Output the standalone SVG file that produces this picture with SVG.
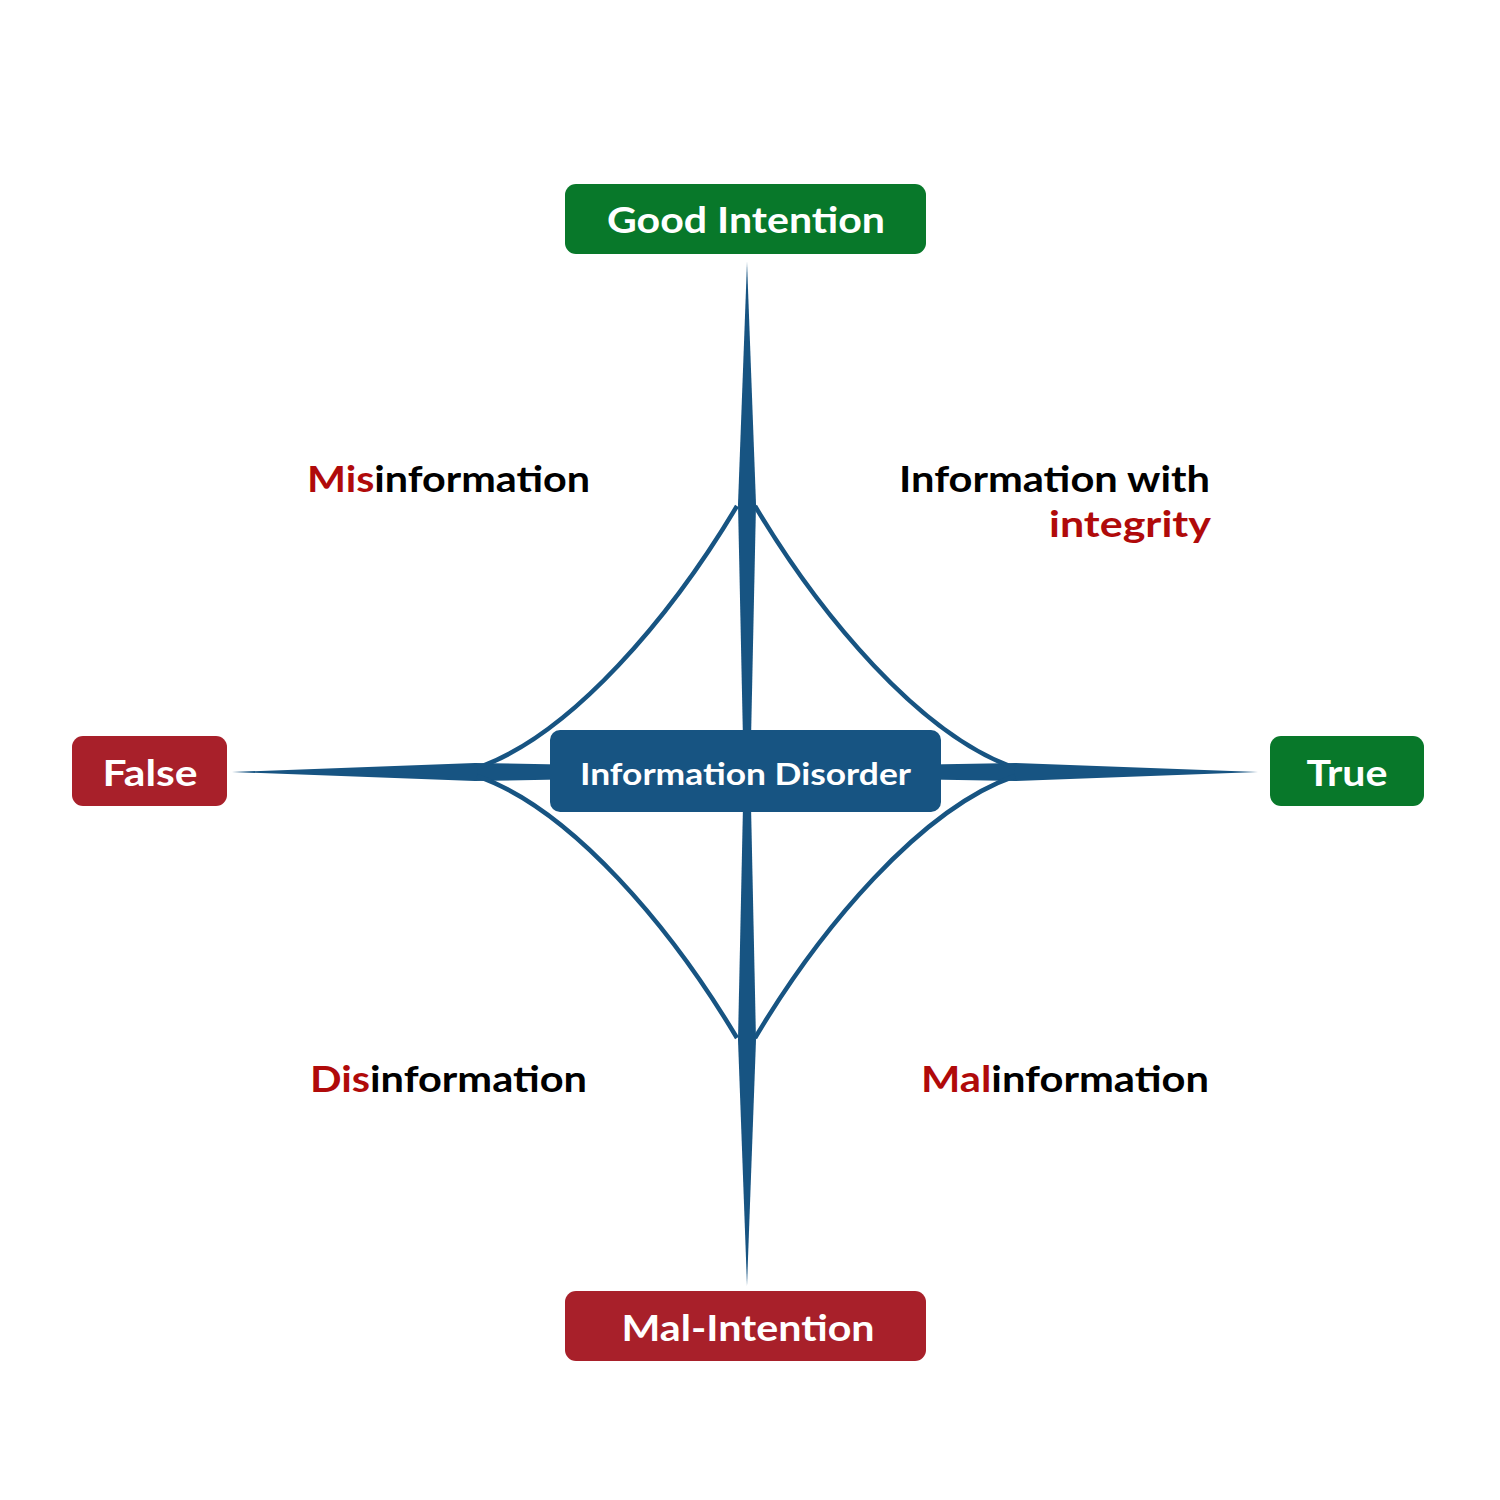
<svg xmlns="http://www.w3.org/2000/svg" width="1500" height="1500" viewBox="0 0 1500 1500">
<style>
.conn{fill:#175482;stroke:none}
.curve{fill:none;stroke:#175482;stroke-width:4.5}
.green{fill:#08782A}
.red{fill:#A8202A}
.blue{fill:#175482}
.nl{font-family:Lato,"Noto Sans","DejaVu Sans",sans-serif;font-weight:bold;fill:#ffffff;text-anchor:middle}
.lab{font-family:Lato,"Noto Sans","DejaVu Sans",sans-serif;font-weight:bold;font-size:37px;fill:#000000}
.hl{fill:#B00A0A}
</style>
<rect width="1500" height="1500" fill="#ffffff"/>
<g id="connectors">
<polygon class="conn" points="747,262 738,504 743,740 751,740 756,504"/>
<polygon class="conn" points="743,805 738,1040 747,1286 756,1040 751,805"/>
<polygon class="conn" points="232,772 475,763 560,764.5 560,779.5 475,781"/>
<polygon class="conn" points="930,764.5 1015,763 1258,772 1015,781 930,779.5"/>
<path class="curve" d="M755,506 C820,615 920,735 1015,768"/>
<path class="curve" d="M737,506 C672,615 572,735 477,768"/>
<path class="curve" d="M755,1038 C820,929 920,809 1015,776"/>
<path class="curve" d="M737,1038 C672,929 572,809 477,776"/>
</g>
<g id="node-good">
<rect class="green" x="565" y="184" width="361" height="70" rx="11"/>
<text class="nl" x="746" y="233" font-size="37" textLength="278" lengthAdjust="spacingAndGlyphs">Good Intention</text>
</g>
<g id="node-mal">
<rect class="red" x="565" y="1291" width="361" height="70" rx="11"/>
<text class="nl" x="748" y="1341" font-size="37" textLength="253" lengthAdjust="spacingAndGlyphs">Mal-Intention</text>
</g>
<g id="node-false">
<rect class="red" x="72" y="736" width="155" height="70" rx="11"/>
<text class="nl" x="150" y="786" font-size="37" textLength="95" lengthAdjust="spacingAndGlyphs">False</text>
</g>
<g id="node-true">
<rect class="green" x="1270" y="736" width="154" height="70" rx="11"/>
<text class="nl" x="1347" y="786" font-size="37" textLength="81" lengthAdjust="spacingAndGlyphs">True</text>
</g>
<g id="node-center">
<rect class="blue" x="550" y="730" width="391" height="82" rx="10"/>
<text class="nl" x="745.5" y="785" font-size="31" textLength="331" lengthAdjust="spacingAndGlyphs">Information Disorder</text>
</g>
<g id="labels">
<text class="lab" x="307" y="492" textLength="283" lengthAdjust="spacingAndGlyphs"><tspan class="hl">Mis</tspan>information</text>
<text class="lab" x="899" y="492" font-size="36" textLength="311" lengthAdjust="spacingAndGlyphs">Information with</text>
<text class="lab hl" x="1049" y="537" font-size="36" textLength="162" lengthAdjust="spacingAndGlyphs">integrity</text>
<text class="lab" x="310" y="1092" textLength="277" lengthAdjust="spacingAndGlyphs"><tspan class="hl">Dis</tspan>information</text>
<text class="lab" x="921" y="1092" textLength="288" lengthAdjust="spacingAndGlyphs"><tspan class="hl">Mal</tspan>information</text>
</g>
</svg>
